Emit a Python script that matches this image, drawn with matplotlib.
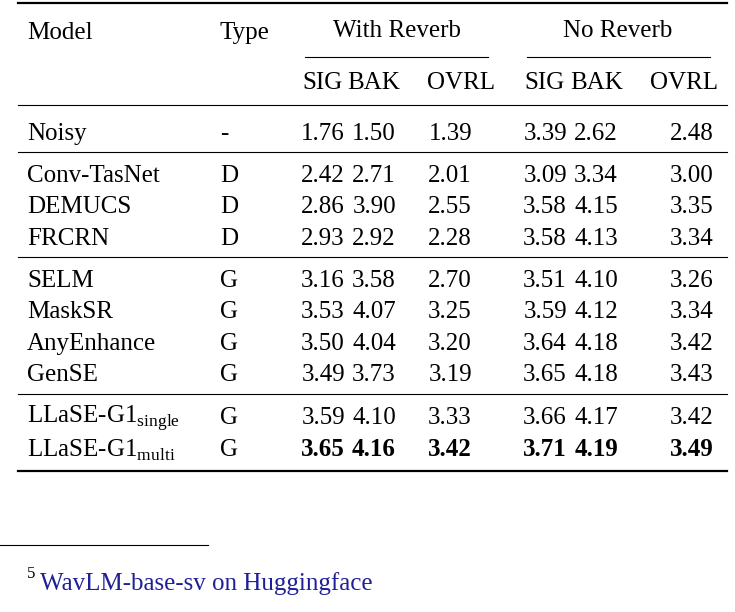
import matplotlib
matplotlib.use("Agg")
import matplotlib.pyplot as plt

plt.rcParams['font.family'] = ['Liberation Serif', 'DejaVu Serif']
plt.rcParams['mathtext.fontset'] = 'custom'
plt.rcParams['mathtext.rm'] = 'Liberation Serif'
plt.rcParams['mathtext.bf'] = 'Liberation Serif:bold'

models = ["Noisy", "Conv-TasNet", "DEMUCS", "FRCRN", "SELM", "MaskSR", "AnyEnhance", "GenSE",
          r"LLaSE-G1$_{\mathrm{single}}$", r"LLaSE-G1$_{\mathrm{multi}}$"]
types = ["-", "D", "D", "D", "G", "G", "G", "G", "G", "G"]
rev_sig = [1.76, 2.42, 2.86, 2.93, 3.16, 3.53, 3.50, 3.49, 3.59, 3.65]
rev_bak = [1.50, 2.71, 3.90, 2.92, 3.58, 4.07, 4.04, 3.73, 4.10, 4.16]
rev_ovrl = [1.39, 2.01, 2.55, 2.28, 2.70, 3.25, 3.20, 3.19, 3.33, 3.42]
no_sig = [3.39, 3.09, 3.58, 3.58, 3.51, 3.59, 3.64, 3.65, 3.66, 3.71]
no_bak = [2.62, 3.34, 4.15, 4.13, 4.10, 4.12, 4.18, 4.18, 4.17, 4.19]
no_ovrl = [2.48, 3.00, 3.35, 3.34, 3.26, 3.34, 3.42, 3.43, 3.42, 3.49]
bold_row = 9

fig = plt.figure(figsize=(7.35, 6.12), dpi=100)
ax = fig.add_axes([0, 0, 1, 1])
ax.set_xlim(0, 735); ax.set_ylim(612, 0); ax.axis('off')
fs = 18

def t(x, y, s, ha='left', **kw):
    ax.text(x, y, s, ha=ha, va='center', fontsize=fs, **kw)

ax.plot([18, 727], [3, 3], color='black', lw=1.6)
ax.plot([18, 727], [105, 105], color='black', lw=0.8)
ax.plot([18, 727], [152, 152], color='black', lw=0.8)
ax.plot([18, 727], [257, 257], color='black', lw=0.8)
ax.plot([18, 727], [394, 394], color='black', lw=0.8)
ax.plot([18, 727], [471, 471], color='black', lw=1.6)
ax.plot([305, 488], [57, 57], color='black', lw=0.8)
ax.plot([527, 710], [57, 57], color='black', lw=0.8)

t(27, 33, "Model"); t(220, 33, "Type")
t(397, 31, "With Reverb", ha='center'); t(618, 31, "No Reverb", ha='center')
for x, s in [(323, "SIG"), (374, "BAK"), (461, "OVRL"), (545, "SIG"), (597, "BAK"), (684, "OVRL")]:
    t(x, 83, s, ha='center')

ys = [134, 176, 207, 239, 281, 312, 344, 375, 418, 450]
cols = [(rev_sig, 345), (rev_bak, 396), (rev_ovrl, 472), (no_sig, 567), (no_bak, 618), (no_ovrl, 714)]
for i, y in enumerate(ys):
    t(27, y, models[i]); t(220, y, types[i])
    for vals, xr in cols:
        t(xr, y, f"{vals[i]:.2f}", ha='right', fontweight='bold' if i == bold_row else 'normal')

ax.plot([0, 208], [545, 545], color='black', lw=0.8)
ax.text(27, 574, "5", fontsize=12, va='center')
ax.text(40, 584, "WavLM-base-sv on Huggingface", fontsize=fs, va='center', color='#1f1f99')

fig.savefig("out.png", dpi=100)
